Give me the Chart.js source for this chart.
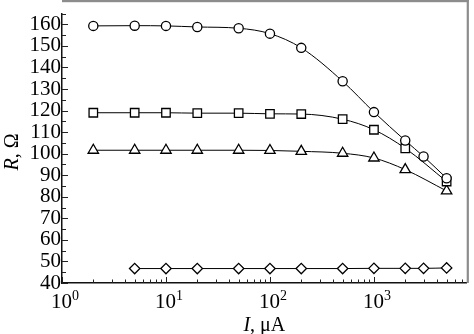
<!DOCTYPE html>
<html>
<head>
<meta charset="utf-8">
<script src="https://cdn.jsdelivr.net/npm/chart.js@4.4.0/dist/chart.umd.min.js"></script>
<style>
  html, body { margin: 0; padding: 0; background: #fff; }
  #wrap { width: 474px; height: 334px; }
</style>
</head>
<body>
<div id="wrap"><canvas id="chart" width="474" height="334"></canvas></div>
<script>
// ===== Data =====
const currentsA = [2, 5, 10, 20, 50, 100, 200, 500, 1000, 2000, 3000, 5000];
const circleR = [159.3, 159.4, 159.3, 158.8, 158.2, 155.7, 149.1, 133.6, 119.3, 106.1, 98.7, 88.6];

const currentsB = [2, 5, 10, 20, 50, 100, 200, 500, 1000, 2000, 5000];
const squareR = [119.0, 119.0, 119.0, 118.8, 118.8, 118.5, 118.4, 116.0, 111.1, 102.5, 87.1];
const triangleR = [101.6, 101.6, 101.6, 101.6, 101.6, 101.5, 101.1, 100.2, 98.0, 92.6, 82.7];

const currentsD = [5, 10, 20, 50, 100, 200, 500, 1000, 2000, 3000, 5000];
const diamondR = [46.7, 46.7, 46.7, 46.7, 46.7, 46.7, 46.7, 46.8, 46.8, 46.8, 47.0];

const xMajorTicks = [1, 10, 100, 1000];
const xTickExponents = ["0", "1", "2", "3"];
const yTickLabels = [40, 50, 60, 70, 80, 90, 100, 110, 120, 130, 140, 150, 160];

const serif = "'Liberation Serif', 'DejaVu Serif', serif";

function toPoints(xs, ys) {
  return xs.map((x, i) => ({ x, y: ys[i] }));
}

function series(xs, ys, style, radius) {
  return {
    data: toPoints(xs, ys),
    borderColor: "#000",
    borderWidth: 1,
    backgroundColor: "#fff",
    pointStyle: style,
    pointRadius: radius,
    pointBorderWidth: 1.3,
    pointBorderColor: "#000",
    pointBackgroundColor: "#fff",
    cubicInterpolationMode: "monotone",
    fill: false
  };
}

// draws text pieces left to right, centred on cx
function drawPieces(ctx, pieces, cx, baseline) {
  let total = 0;
  pieces.forEach(p => { ctx.font = p.font; total += ctx.measureText(p.text).width; });
  let sx = cx - total / 2;
  pieces.forEach(p => {
    ctx.font = p.font;
    ctx.fillText(p.text, sx, baseline + (p.dy || 0));
    sx += ctx.measureText(p.text).width;
  });
}

// ===== Inward ticks, frame, x labels and axis titles =====
const framePlugin = {
  id: "framePlugin",
  afterDraw(chart) {
    const { ctx, chartArea: a, scales: { x, y } } = chart;
    ctx.save();

    // gray frame top/right
    ctx.fillStyle = "#8c8c8c";
    ctx.fillRect(a.left, 0, a.right - a.left + 2, 2.2);
    ctx.fillRect(a.right, 0, 2.2, a.bottom);

    ctx.strokeStyle = "#222";
    ctx.lineWidth = 1;

    // y ticks every 5
    for (let v = 40; v <= y.max; v += 5) {
      const py = Math.round(y.getPixelForValue(v)) + 0.5;
      const len = v % 10 === 0 ? 6 : 4;
      ctx.beginPath();
      ctx.moveTo(a.left, py);
      ctx.lineTo(a.left + len, py);
      ctx.stroke();
    }

    // x ticks: majors and minors per decade
    xMajorTicks.forEach(d => {
      for (let m = 1; m <= 9; m++) {
        const v = d * m;
        if (v > x.max) break;
        const px = Math.round(x.getPixelForValue(v)) + 0.5;
        const len = m === 1 ? 6 : 3.5;
        ctx.beginPath();
        ctx.moveTo(px, a.bottom);
        ctx.lineTo(px, a.bottom - len);
        ctx.stroke();
      }
    });

    ctx.fillStyle = "#000";
    ctx.textBaseline = "alphabetic";

    // x tick labels with superscript exponent
    xMajorTicks.forEach((v, i) => {
      const px = x.getPixelForValue(v);
      drawPieces(ctx, [
        { text: "10", font: "21px " + serif },
        { text: xTickExponents[i], font: "14px " + serif, dy: -8 }
      ], px + 3, 308);
    });

    // x title: "I, μA"
    drawPieces(ctx, [
      { text: "I", font: "italic 20px " + serif },
      { text: ", \u03bcA", font: "20px " + serif }
    ], (a.left + a.right) / 2, 331);

    // y title: "R, Ω"
    ctx.translate(18, 152);
    ctx.rotate(-Math.PI / 2);
    drawPieces(ctx, [
      { text: "R", font: "italic 20px " + serif },
      { text: ", \u03a9", font: "20px " + serif }
    ], 0, 0);

    ctx.restore();
  }
};

// ===== Chart =====
new Chart(document.getElementById("chart").getContext("2d"), {
  type: "line",
  data: {
    datasets: [
      series(currentsA, circleR, "circle", 4.6),
      series(currentsB, squareR, "rect", 6),
      series(currentsB, triangleR, "triangle", 6),
      series(currentsD, diamondR, "rectRot", 5.2)
    ]
  },
  options: {
    responsive: false,
    animation: false,
    layout: { padding: { top: 2, right: 2, left: 0, bottom: 0 } },
    plugins: { legend: { display: false }, tooltip: { enabled: false } },
    scales: {
      x: {
        type: "logarithmic",
        min: 1,
        max: 7800,
        afterFit: s => { s.height = 51; },
        grid: { display: false, drawTicks: false },
        border: { color: "#111", width: 1.5 },
        ticks: { display: false }
      },
      y: {
        min: 40,
        max: 165,
        afterFit: s => { s.width = 62; },
        afterBuildTicks: s => { s.ticks = yTickLabels.map(v => ({ value: v })); },
        grid: { display: false, drawTicks: false },
        border: { color: "#111", width: 1.5 },
        ticks: {
          autoSkip: false,
          padding: 1,
          color: "#000",
          font: { family: serif, size: 21 },
          callback: v => String(v)
        }
      }
    }
  },
  plugins: [framePlugin]
});
</script>
</body>
</html>
